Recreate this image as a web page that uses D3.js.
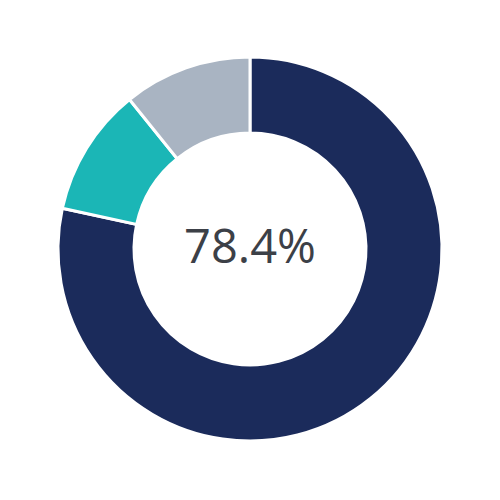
<!DOCTYPE html>
<html lang="en">
<head>
<meta charset="utf-8">
<title>Donut</title>
<script src="https://cdn.jsdelivr.net/npm/d3@7"></script>
<style>
  body { margin: 0; background: #fff; }
</style>
</head>
<body>
<script>
  // data
  var labels = ["Primary", "Teal", "Gray"];
  var values = [78.4, 10.8, 10.8];
  var colors = ["#1b2b5b", "#1bb6b6", "#a9b4c2"];
  var centerLabel = "78.4%";

  var width = 500, height = 500;
  var cx = 250, cy = 249;
  var outerR = 192, innerR = 116;

  var svg = d3.select("body").append("svg")
      .attr("width", width)
      .attr("height", height);

  var g = svg.append("g")
      .attr("transform", "translate(" + cx + "," + cy + ")");

  var pie = d3.pie().sort(null).value(function (d) { return d; });
  var arc = d3.arc().innerRadius(innerR).outerRadius(outerR);

  g.selectAll("path")
    .data(pie(values))
    .enter()
    .append("path")
    .attr("d", arc)
    .attr("fill", function (d, i) { return colors[i]; })
    .attr("stroke", "#fff")
    .attr("stroke-width", 3);

  g.append("text")
    .attr("x", 0)
    .attr("y", 14)
    .attr("text-anchor", "middle")
    .style("font-family", "'Open Sans', sans-serif")
    .style("font-size", "47px")
    .style("fill", "#3c4047")
    .text(centerLabel);
</script>
</body>
</html>
